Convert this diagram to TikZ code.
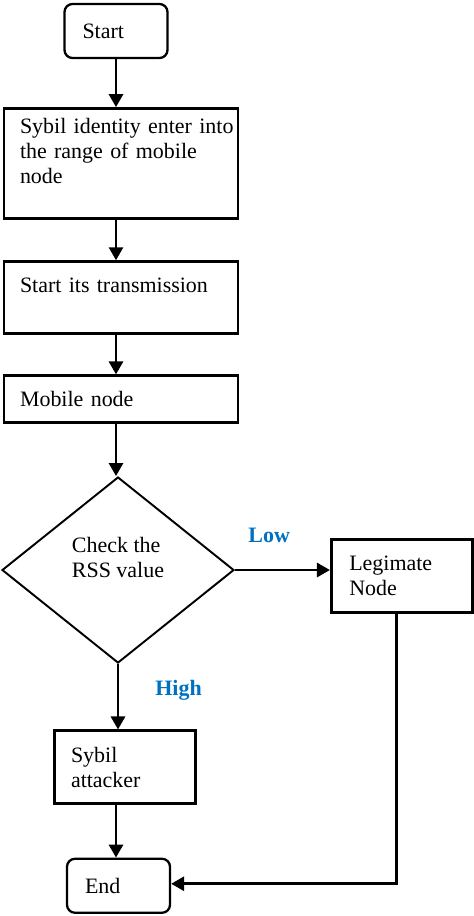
\documentclass[tikz,border=0pt]{standalone}
\usepackage{fontspec}
\setmainfont{Liberation Serif}
\usetikzlibrary{shapes.geometric, positioning, arrows.meta}
\definecolor{lblblue}{RGB}{0,112,192}
\tikzset{
->, % every connector is directed
>={Triangle[length=0.26cm, width=0.28cm]}, % filled triangle heads
every node/.style={font=\fontsize{12.5}{14.2}\selectfont}, % Times-like text
flow/.style={line width=1.6pt}, % thick connectors
terminal/.style={draw, rounded corners=0.16cm, line width=1.3pt, align=left, text width=1.34cm, inner xsep=0.36cm, inner ysep=0, minimum height=1.08cm}, % start and end boxes
process/.style={draw, line width=1.5pt, align=left, text width=#1, inner xsep=0.32cm, inner ysep=0}, % plain boxes
process/.default=4.04cm,
decision/.style={draw, diamond, line width=1.1pt, align=left, inner sep=0, minimum width=4.64cm, minimum height=3.72cm}, % the check
lbl/.style={text=lblblue, font=\fontsize{12.5}{14.2}\selectfont\bfseries, inner sep=0}, % branch labels
}
\begin{document}
\begin{tikzpicture}
    \useasboundingbox (0,0) rectangle (9.48,-18.32);
    \node[terminal] (start) at (2.32,-0.62) {Start};
    \node[process, minimum height=2.2cm, below=0.96cm of start, xshift=0.1cm] (sybil_enter) {\mbox{Sybil identity enter into}\\the range of mobile\\node\\~};
    \node[process, minimum height=1.44cm, below=0.81cm of sybil_enter] (start_tx) {Start its transmission\\~};
    \node[process, minimum height=0.94cm, below=0.79cm of start_tx] (mobile_node) {Mobile node};
    \node[decision, below=1.04cm of mobile_node, xshift=-0.06cm] (check_rss) {Check the\\RSS value\\~};
    \node[process=2.1cm, inner xsep=0.36cm, minimum height=1.46cm, right=1.9cm of check_rss, yshift=-0.12cm] (legit_node) {Legimate\\Node};
    \node[process=2.16cm, inner xsep=0.33cm, minimum height=1.46cm, below=1.31cm of check_rss, xshift=0.14cm] (sybil_node) {Sybil\\attacker};
    \node[terminal, below=1.05cm of sybil_node, xshift=-0.13cm] (end_node) {End};
    \path[flow]
        (start.south) edge (start.south |- sybil_enter.north)
        (sybil_enter.south -| start) edge (start |- start_tx.north)
        (start_tx.south -| start) edge (start |- mobile_node.north)
        (mobile_node.south -| start) edge (start |- check_rss.north)
        (check_rss.east) edge node[lbl, pos=0.36, above=0.52cm] {Low} (check_rss.east -| legit_node.west)
        (check_rss.south) edge node[lbl, pos=0.4, right=0.72cm] {High} (check_rss.south |- sybil_node.north)
        (sybil_node.south -| start) edge (start |- end_node.north)
        ([xshift=-0.11cm]legit_node.south) edge[to path={|- (\tikztotarget)}] ([yshift=0.04cm]end_node.east)
        ;
\end{tikzpicture}
\end{document}
